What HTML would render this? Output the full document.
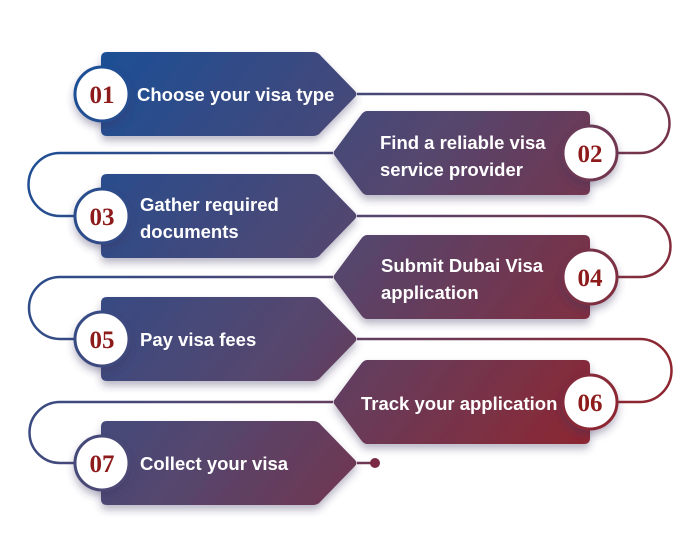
<!DOCTYPE html>
<html><head><meta charset="utf-8"><style>
html,body{margin:0;padding:0;background:#fff;}
svg{display:block}
text{font-family:"Liberation Sans",sans-serif;font-weight:bold;fill:#fff;font-size:18.5px}
.n{font-family:"Liberation Serif",serif;font-weight:bold;fill:#8e1b1b;font-size:25px;text-anchor:middle}
</style></head><body>
<svg width="699" height="555" viewBox="0 0 699 555">
<defs>
<linearGradient id="g" gradientUnits="userSpaceOnUse" x1="100" y1="60" x2="600" y2="440">
<stop offset="0" stop-color="#1d4f95"/>
<stop offset="0.5" stop-color="#55466e"/>
<stop offset="1" stop-color="#8e2630"/>
</linearGradient>
<filter id="s" x="-20%" y="-20%" width="140%" height="160%">
<feDropShadow dx="0" dy="5" stdDeviation="4" flood-color="#3a3060" flood-opacity="0.35"/>
</filter>
</defs>
<g fill="none" stroke="url(#g)" stroke-width="2.5">
<path d="M357,94 L640,94 A29.5,29.5 0 0 1 640,153 L617,153"/>
<path d="M333,153 L60,153 A31.5,31.5 0 0 0 60,216 L75,216"/>
<path d="M357,216 L640,216 A30.5,30.5 0 0 1 640,277 L617,277"/>
<path d="M333,277 L60,277 A31,31 0 0 0 60,339 L75,339"/>
<path d="M357,339 L640,339 A31.5,31.5 0 0 1 640,402 L617,402"/>
<path d="M333,402 L60,402 A30.5,30.5 0 0 0 60,463 L75,463"/>
<path d="M357,463 L375,463"/>
</g>
<circle cx="375" cy="463" r="5" fill="#7a2a45"/>
<g fill="url(#g)" filter="url(#s)">
<path d="M107,52 L313,52 Q318,52 321,56 L355,91 Q358,94 355,97 L321,132 Q318,136 313,136 L107,136 Q101,136 101,130 L101,58 Q101,52 107,52Z"/>
<path d="M367,111 L584,111 Q590,111 590,117 L590,189 Q590,195 584,195 L367,195 Q364,195 361,191 L335,156 Q332,153 335,150 L361,115 Q364,111 367,111Z"/>
<path d="M107,174 L313,174 Q318,174 321,178 L355,213 Q358,216 355,219 L321,254 Q318,258 313,258 L107,258 Q101,258 101,252 L101,180 Q101,174 107,174Z"/>
<path d="M367,235 L584,235 Q590,235 590,241 L590,313 Q590,319 584,319 L367,319 Q364,319 361,315 L335,280 Q332,277 335,274 L361,239 Q364,235 367,235Z"/>
<path d="M107,297 L313,297 Q318,297 321,301 L355,336 Q358,339 355,342 L321,377 Q318,381 313,381 L107,381 Q101,381 101,375 L101,303 Q101,297 107,297Z"/>
<path d="M367,360 L584,360 Q590,360 590,366 L590,438 Q590,444 584,444 L367,444 Q364,444 361,440 L335,405 Q332,402 335,399 L361,364 Q364,360 367,360Z"/>
<path d="M107,421 L313,421 Q318,421 321,425 L355,460 Q358,463 355,466 L321,501 Q318,505 313,505 L107,505 Q101,505 101,499 L101,427 Q101,421 107,421Z"/>
</g>
<g fill="#fff" stroke="url(#g)" stroke-width="3" filter="url(#s)">
<circle cx="102" cy="94" r="27"/>
<circle cx="590" cy="153" r="27"/>
<circle cx="102" cy="216" r="27"/>
<circle cx="590" cy="277" r="27"/>
<circle cx="102" cy="339" r="27"/>
<circle cx="590" cy="402" r="27"/>
<circle cx="102" cy="463" r="27"/>
</g>
<text class="n" x="102" y="103">01</text>
<text class="n" x="590" y="162">02</text>
<text class="n" x="102" y="225">03</text>
<text class="n" x="590" y="286">04</text>
<text class="n" x="102" y="348">05</text>
<text class="n" x="590" y="411">06</text>
<text class="n" x="102" y="472">07</text>
<text x="137" y="101">Choose your visa type</text>
<text x="380" y="149">Find a reliable visa</text>
<text x="380" y="176">service provider</text>
<text x="140" y="211">Gather required</text>
<text x="140" y="238">documents</text>
<text x="381" y="272">Submit Dubai Visa</text>
<text x="381" y="299">application</text>
<text x="140" y="346">Pay visa fees</text>
<text x="361" y="410">Track your application</text>
<text x="140" y="470">Collect your visa</text>
</svg>
</body></html>
